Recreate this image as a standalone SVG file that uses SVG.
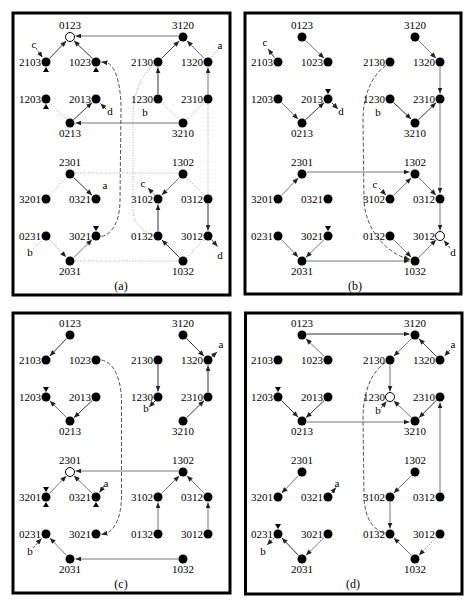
<svg xmlns="http://www.w3.org/2000/svg" width="474" height="607" viewBox="0 0 474 607">
<defs>
<marker id="ah" viewBox="0 0 7 6" refX="7" refY="3" markerWidth="6" markerHeight="5" markerUnits="userSpaceOnUse" orient="auto"><path class="ahp" d="M0,0L7,3L0,6z"/></marker>
<style>
circle{fill:#000}
circle.h{fill:#fff;stroke:#000;stroke-width:1}
text{font-family:"Liberation Serif","Times New Roman",serif;font-size:11px;fill:#000}
.l{text-anchor:end}
.m{text-anchor:middle}
.p{font-size:12px;text-anchor:middle}
.fr{fill:none;stroke:#000;stroke-width:3}
path{fill:none}
path.ahp{fill:#222;stroke:none}
.e{stroke:#333;stroke-width:1;marker-end:url(#ah)}
.eg{stroke:#777;stroke-width:1;marker-end:url(#ah)}
.dt{stroke:#aaa;stroke-width:1;stroke-dasharray:1 1.6}
.dta{stroke:#999;stroke-width:1;stroke-dasharray:1.5 1.5;marker-end:url(#ah)}
.ds{stroke:#555;stroke-width:1;stroke-dasharray:4 2}
.dsa{stroke:#555;stroke-width:1;stroke-dasharray:2.5 1.5;marker-end:url(#ah)}
.tri{fill:#000}
</style>
</defs>
<rect width="474" height="607" fill="#fff"/>
<rect class="fr" x="13" y="13" width="217" height="282"/>
<rect class="fr" x="245" y="13" width="216" height="281"/>
<rect class="fr" x="13" y="313" width="217" height="280"/>
<rect class="fr" x="245.5" y="313" width="216.5" height="281"/>

<!-- Panel a -->
<g id="panel-a">
<g id="a-edges">
<path class="e" d="M49.5,58.4L66.2,41"/>
<path class="e" d="M92.4,58.5L74,40.8"/>
<path class="dsa" d="M36,48L42.5,57.5"/>
<path class="e" d="M73.7,119.6L92,102.7"/>
<path class="e" d="M106,109L100.5,103.5"/>
<path class="eg" d="M178,36L75.5,36"/>
<path class="eg" d="M178,123L75.5,123"/>
<path class="dt" d="M66.5,119.5L49.5,102.5"/>
<path class="ds" d="M101.5,236.5C112,234 120,222 120,200L121,110C121,80 114,64 106,62.5"/>
<path class="e" d="M107,62.7L101.5,62"/>
<path class="e" d="M161.5,58.4L179.2,41"/>
<path class="eg" d="M204.4,58.5L187,40.8"/>
<path class="e" d="M158,94L158,67.5"/>
<path class="eg" d="M208,94L208,67.5"/>
<path class="dt" d="M219,48L212,57"/>
<path class="dt" d="M161.5,102.5L179.5,119.5"/>
<path class="dt" d="M204.3,102.4L186.7,119.6"/>
<path class="dt" d="M154,65C140,75 133,95 133,120L133,210C133,225 145,233 153.5,235"/>
<path class="dt" d="M208,104L208,194"/>
<path class="dt" d="M75,173L178,173"/>
<path class="dt" d="M75,261L178,261"/>
<path class="e" d="M73.6,177.5L92,195.2"/>
<path class="dt" d="M66.4,177.5L49.5,195.4"/>
<path class="dta" d="M49.5,239.5L66.1,257.1"/>
<path class="dt" d="M33,249L42,240"/>
<path class="eg" d="M73.7,257.6L92,239.7"/>
<path class="eg" d="M179.5,177.6L161.8,195"/>
<path class="dsa" d="M155,195.5L148,188"/>
<path class="dt" d="M186.6,177.5L204.4,195.5"/>
<path class="e" d="M158,231L158,204.5"/>
<path class="e" d="M208,204L208,230.5"/>
<path class="e" d="M179.5,257.5L161.9,239.9"/>
<path class="dt" d="M186.7,257.6L204.3,239.4"/>
<path class="e" d="M211.5,239.5L217.5,246.5"/>
<polygon class="tri" points="43,72 49,72 46,67"/>
<polygon class="tri" points="93,72 99,72 96,67"/>
<polygon class="tri" points="43,109 49,109 46,104"/>
<polygon class="tri" points="93,226 99,226 96,231"/>
</g>
<g id="a-0123"><circle class="h" cx="70" cy="37" r="4.5"/><text class="m" x="70" y="29">0123</text></g>
<g id="a-2103"><circle cx="46" cy="62" r="4.5"/><text class="l" x="41" y="65.8">2103</text></g>
<g id="a-1023"><circle cx="96" cy="62" r="4.5"/><text class="l" x="91" y="65.8">1023</text></g>
<g id="a-1203"><circle cx="46" cy="99" r="4.5"/><text class="l" x="41" y="102.8">1203</text></g>
<g id="a-2013"><circle cx="96" cy="99" r="4.5"/><text class="l" x="91" y="102.8">2013</text></g>
<g id="a-0213"><circle cx="70" cy="123" r="4.5"/><text class="m" x="70" y="137">0213</text></g>
<g id="a-3120"><circle cx="183" cy="37" r="4.5"/><text class="m" x="183" y="29">3120</text></g>
<g id="a-2130"><circle cx="158" cy="62" r="4.5"/><text class="l" x="153" y="65.8">2130</text></g>
<g id="a-1320"><circle cx="208" cy="62" r="4.5"/><text class="l" x="203" y="65.8">1320</text></g>
<g id="a-1230"><circle cx="158" cy="99" r="4.5"/><text class="l" x="153" y="102.8">1230</text></g>
<g id="a-2310"><circle cx="208" cy="99" r="4.5"/><text class="l" x="203" y="102.8">2310</text></g>
<g id="a-3210"><circle cx="183" cy="123" r="4.5"/><text class="m" x="183" y="137">3210</text></g>
<g id="a-2301"><circle cx="70" cy="174" r="4.5"/><text class="m" x="70" y="166">2301</text></g>
<g id="a-3201"><circle cx="46" cy="199" r="4.5"/><text class="l" x="41" y="202.8">3201</text></g>
<g id="a-0321"><circle cx="96" cy="199" r="4.5"/><text class="l" x="91" y="202.8">0321</text></g>
<g id="a-0231"><circle cx="46" cy="236" r="4.5"/><text class="l" x="41" y="239.8">0231</text></g>
<g id="a-3021"><circle cx="96" cy="236" r="4.5"/><text class="l" x="91" y="239.8">3021</text></g>
<g id="a-2031"><circle cx="70" cy="261" r="4.5"/><text class="m" x="70" y="275">2031</text></g>
<g id="a-1302"><circle cx="183" cy="174" r="4.5"/><text class="m" x="183" y="166">1302</text></g>
<g id="a-3102"><circle cx="158" cy="199" r="4.5"/><text class="l" x="153" y="202.8">3102</text></g>
<g id="a-0312"><circle cx="208" cy="199" r="4.5"/><text class="l" x="203" y="202.8">0312</text></g>
<g id="a-0132"><circle cx="158" cy="236" r="4.5"/><text class="l" x="153" y="239.8">0132</text></g>
<g id="a-3012"><circle cx="208" cy="236" r="4.5"/><text class="l" x="203" y="239.8">3012</text></g>
<g id="a-1032"><circle cx="183" cy="261" r="4.5"/><text class="m" x="183" y="275">1032</text></g>
<g id="a-letters">
<text class="m" x="34" y="48">c</text>
<text class="m" x="110" y="115">d</text>
<text class="m" x="220" y="49">a</text>
<text class="m" x="145" y="116">b</text>
<text class="m" x="105" y="189">a</text>
<text class="m" x="30" y="256">b</text>
<text class="m" x="143" y="187">c</text>
<text class="m" x="220" y="259">d</text>
<text class="p" x="121" y="290">(a)</text>
</g>
</g>

<!-- Panel b -->
<g id="panel-b" transform="translate(232,0)">
<g id="b-edges">
<path class="eg" d="M73.6,40.5L92,58.2"/>
<path class="e" d="M42.5,57.5L36,49"/>
<path class="eg" d="M49.5,102.5L66.1,119.1"/>
<path class="e" d="M73.7,119.6L92,102.7"/>
<path class="e" d="M100,103L106,109"/>
<path class="eg" d="M186.6,40.5L204,58.2"/>
<path class="eg" d="M208,67L208,93.5"/>
<path class="e" d="M161.5,102.5L179.1,119.1"/>
<path class="e" d="M186.7,119.6L204,102.7"/>
<path class="ds" d="M154,65.5C140,75 131,95 131,120L132,200C133,230 155,252 173,258"/>
<path class="e" d="M172,257.7L177.8,259.4"/>
<path class="eg" d="M208,104L208,193.5"/>
<path class="eg" d="M49.5,195.4L66.2,178"/>
<path class="eg" d="M75,172L177.5,172"/>
<path class="eg" d="M49.5,239.5L66.1,257.1"/>
<path class="eg" d="M92.3,239.4L74,257.3"/>
<path class="eg" d="M75,261L177.5,261"/>
<path class="eg" d="M161.5,195.4L179.2,178"/>
<path class="dsa" d="M147,188L154,195"/>
<path class="eg" d="M186.6,177.5L204,195.2"/>
<path class="eg" d="M208,204L208,230.5"/>
<path class="eg" d="M186.7,257.6L204,239.7"/>
<path class="dsa" d="M218,248L212,240.5"/>
<path class="eg" d="M161.5,239.5L179.1,257.1"/>
<polygon class="tri" points="93,89 99,89 96,94"/>
<polygon class="tri" points="93,226 99,226 96,231"/>
</g>
<g id="b-0123"><circle cx="70" cy="37" r="4.5"/><text class="m" x="70" y="29">0123</text></g>
<g id="b-2103"><circle cx="46" cy="62" r="4.5"/><text class="l" x="41" y="65.8">2103</text></g>
<g id="b-1023"><circle cx="96" cy="62" r="4.5"/><text class="l" x="91" y="65.8">1023</text></g>
<g id="b-1203"><circle cx="46" cy="99" r="4.5"/><text class="l" x="41" y="102.8">1203</text></g>
<g id="b-2013"><circle cx="96" cy="99" r="4.5"/><text class="l" x="91" y="102.8">2013</text></g>
<g id="b-0213"><circle cx="70" cy="123" r="4.5"/><text class="m" x="70" y="137">0213</text></g>
<g id="b-3120"><circle cx="183" cy="37" r="4.5"/><text class="m" x="183" y="29">3120</text></g>
<g id="b-2130"><circle cx="158" cy="62" r="4.5"/><text class="l" x="153" y="65.8">2130</text></g>
<g id="b-1320"><circle cx="208" cy="62" r="4.5"/><text class="l" x="203" y="65.8">1320</text></g>
<g id="b-1230"><circle cx="158" cy="99" r="4.5"/><text class="l" x="153" y="102.8">1230</text></g>
<g id="b-2310"><circle cx="208" cy="99" r="4.5"/><text class="l" x="203" y="102.8">2310</text></g>
<g id="b-3210"><circle cx="183" cy="123" r="4.5"/><text class="m" x="183" y="137">3210</text></g>
<g id="b-2301"><circle cx="70" cy="174" r="4.5"/><text class="m" x="70" y="166">2301</text></g>
<g id="b-3201"><circle cx="46" cy="199" r="4.5"/><text class="l" x="41" y="202.8">3201</text></g>
<g id="b-0321"><circle cx="96" cy="199" r="4.5"/><text class="l" x="91" y="202.8">0321</text></g>
<g id="b-0231"><circle cx="46" cy="236" r="4.5"/><text class="l" x="41" y="239.8">0231</text></g>
<g id="b-3021"><circle cx="96" cy="236" r="4.5"/><text class="l" x="91" y="239.8">3021</text></g>
<g id="b-2031"><circle cx="70" cy="261" r="4.5"/><text class="m" x="70" y="275">2031</text></g>
<g id="b-1302"><circle cx="183" cy="174" r="4.5"/><text class="m" x="183" y="166">1302</text></g>
<g id="b-3102"><circle cx="158" cy="199" r="4.5"/><text class="l" x="153" y="202.8">3102</text></g>
<g id="b-0312"><circle cx="208" cy="199" r="4.5"/><text class="l" x="203" y="202.8">0312</text></g>
<g id="b-0132"><circle cx="158" cy="236" r="4.5"/><text class="l" x="153" y="239.8">0132</text></g>
<g id="b-3012"><circle class="h" cx="208" cy="236" r="4.5"/><text class="l" x="203" y="239.8">3012</text></g>
<g id="b-1032"><circle cx="183" cy="261" r="4.5"/><text class="m" x="183" y="275">1032</text></g>
<g id="b-letters">
<text class="m" x="33" y="46">c</text>
<text class="m" x="109" y="115">d</text>
<text class="m" x="146" y="116">b</text>
<text class="m" x="143" y="188">c</text>
<text class="m" x="221" y="256">d</text>
<text class="p" x="123" y="290">(b)</text>
</g>
</g>

<!-- Panel c -->
<g id="panel-c" transform="translate(0,298)">
<g id="c-edges">
<path class="e" d="M66.5,40.6L49.8,58"/>
<path class="ds" d="M101.5,62C112,64 120,76 121.5,100L121.5,200C121,222 113,233 106,235.5"/>
<path class="e" d="M107,235.2L101.5,236.5"/>
<path class="eg" d="M66.5,119.5L49.9,102.9"/>
<path class="e" d="M92.3,102.4L74,119.7"/>
<path class="e" d="M158,67L158,93.5"/>
<path class="e" d="M155,103L149,109"/>
<path class="e" d="M186.6,40.5L204,58.2"/>
<path class="e" d="M211.5,59L217,54"/>
<path class="e" d="M208,94L208,67.5"/>
<path class="e" d="M186.7,119.6L204,102.7"/>
<path class="eg" d="M178,173L75.5,173"/>
<path class="eg" d="M49.5,195.4L66.2,178"/>
<path class="eg" d="M92.4,195.5L74,177.8"/>
<path class="e" d="M104,188L99.5,194.5"/>
<path class="eg" d="M66.5,257.5L49.9,239.9"/>
<path class="dsa" d="M33,250L41.5,240.5"/>
<path class="eg" d="M178,261L75.5,261"/>
<path class="eg" d="M158,231L158,204.5"/>
<path class="eg" d="M161.5,195.4L179.2,178"/>
<path class="eg" d="M204.4,195.5L187,177.8"/>
<path class="eg" d="M208,231L208,204.5"/>
<polygon class="tri" points="43,89 49,89 46,94"/>
<polygon class="tri" points="43,189 49,189 46,194"/>
<polygon class="tri" points="43,209 49,209 46,204"/>
<polygon class="tri" points="93,209 99,209 96,204"/>
</g>
<g id="c-0123"><circle cx="70" cy="37" r="4.5"/><text class="m" x="70" y="29">0123</text></g>
<g id="c-2103"><circle cx="46" cy="62" r="4.5"/><text class="l" x="41" y="65.8">2103</text></g>
<g id="c-1023"><circle cx="96" cy="62" r="4.5"/><text class="l" x="91" y="65.8">1023</text></g>
<g id="c-1203"><circle cx="46" cy="99" r="4.5"/><text class="l" x="41" y="102.8">1203</text></g>
<g id="c-2013"><circle cx="96" cy="99" r="4.5"/><text class="l" x="91" y="102.8">2013</text></g>
<g id="c-0213"><circle cx="70" cy="123" r="4.5"/><text class="m" x="70" y="137">0213</text></g>
<g id="c-3120"><circle cx="183" cy="37" r="4.5"/><text class="m" x="183" y="29">3120</text></g>
<g id="c-2130"><circle cx="158" cy="62" r="4.5"/><text class="l" x="153" y="65.8">2130</text></g>
<g id="c-1320"><circle cx="208" cy="62" r="4.5"/><text class="l" x="203" y="65.8">1320</text></g>
<g id="c-1230"><circle cx="158" cy="99" r="4.5"/><text class="l" x="153" y="102.8">1230</text></g>
<g id="c-2310"><circle cx="208" cy="99" r="4.5"/><text class="l" x="203" y="102.8">2310</text></g>
<g id="c-3210"><circle cx="183" cy="123" r="4.5"/><text class="m" x="183" y="137">3210</text></g>
<g id="c-2301"><circle class="h" cx="70" cy="174" r="4.5"/><text class="m" x="70" y="166">2301</text></g>
<g id="c-3201"><circle cx="46" cy="199" r="4.5"/><text class="l" x="41" y="202.8">3201</text></g>
<g id="c-0321"><circle cx="96" cy="199" r="4.5"/><text class="l" x="91" y="202.8">0321</text></g>
<g id="c-0231"><circle cx="46" cy="236" r="4.5"/><text class="l" x="41" y="239.8">0231</text></g>
<g id="c-3021"><circle cx="96" cy="236" r="4.5"/><text class="l" x="91" y="239.8">3021</text></g>
<g id="c-2031"><circle cx="70" cy="261" r="4.5"/><text class="m" x="70" y="275">2031</text></g>
<g id="c-1302"><circle cx="183" cy="174" r="4.5"/><text class="m" x="183" y="166">1302</text></g>
<g id="c-3102"><circle cx="158" cy="199" r="4.5"/><text class="l" x="153" y="202.8">3102</text></g>
<g id="c-0312"><circle cx="208" cy="199" r="4.5"/><text class="l" x="203" y="202.8">0312</text></g>
<g id="c-0132"><circle cx="158" cy="236" r="4.5"/><text class="l" x="153" y="239.8">0132</text></g>
<g id="c-3012"><circle cx="208" cy="236" r="4.5"/><text class="l" x="203" y="239.8">3012</text></g>
<g id="c-1032"><circle cx="183" cy="261" r="4.5"/><text class="m" x="183" y="275">1032</text></g>
<g id="c-letters">
<text class="m" x="146" y="114">b</text>
<text class="m" x="221" y="50">a</text>
<text class="m" x="106" y="189">a</text>
<text class="m" x="30" y="257">b</text>
<text class="p" x="121" y="290">(c)</text>
</g>
</g>

<!-- Panel d -->
<g id="panel-d" transform="translate(232,298)">
<g id="d-edges">
<path class="e" d="M75,36L177.5,36"/>
<path class="eg" d="M92.4,58.5L74,40.8"/>
<path class="eg" d="M179.5,40.6L161.8,58"/>
<path class="e" d="M204.4,58.5L187,40.8"/>
<path class="dsa" d="M218,52L212.5,58"/>
<path class="eg" d="M158,67L158,93.5"/>
<path class="dsa" d="M149,110L154.5,103.5"/>
<path class="eg" d="M179.5,119.5L161.9,102.9"/>
<path class="e" d="M204.3,102.4L187,119.7"/>
<path class="e" d="M49.5,102.5L66.1,119.1"/>
<path class="e" d="M92.3,102.4L74,119.7"/>
<path class="eg" d="M75,124L177.5,124"/>
<path class="ds" d="M153.5,64.5C141,72 131,92 131,120L132,200C133,222 142,232 153,235.5"/>
<path class="eg" d="M208,194L208,104.5"/>
<path class="eg" d="M66.5,177.6L49.8,195"/>
<path class="e" d="M99.5,195L104,189.5"/>
<path class="dsa" d="M42.5,239.5L35,247"/>
<path class="e" d="M66.5,257.5L49.9,239.9"/>
<path class="eg" d="M92.3,239.4L74,257.3"/>
<path class="eg" d="M179.5,177.6L161.8,195"/>
<path class="eg" d="M158,204L158,230.5"/>
<path class="eg" d="M179.5,257.5L161.9,239.9"/>
<path class="dta" d="M204.3,239.4L187,257.3"/>
<polygon class="tri" points="43,89 49,89 46,94"/>
<polygon class="tri" points="43,226 49,226 46,231"/>
</g>
<g id="d-0123"><circle cx="70" cy="37" r="4.5"/><text class="m" x="70" y="29">0123</text></g>
<g id="d-2103"><circle cx="46" cy="62" r="4.5"/><text class="l" x="41" y="65.8">2103</text></g>
<g id="d-1023"><circle cx="96" cy="62" r="4.5"/><text class="l" x="91" y="65.8">1023</text></g>
<g id="d-1203"><circle cx="46" cy="99" r="4.5"/><text class="l" x="41" y="102.8">1203</text></g>
<g id="d-2013"><circle cx="96" cy="99" r="4.5"/><text class="l" x="91" y="102.8">2013</text></g>
<g id="d-0213"><circle cx="70" cy="123" r="4.5"/><text class="m" x="70" y="137">0213</text></g>
<g id="d-3120"><circle cx="183" cy="37" r="4.5"/><text class="m" x="183" y="29">3120</text></g>
<g id="d-2130"><circle cx="158" cy="62" r="4.5"/><text class="l" x="153" y="65.8">2130</text></g>
<g id="d-1320"><circle cx="208" cy="62" r="4.5"/><text class="l" x="203" y="65.8">1320</text></g>
<g id="d-1230"><circle class="h" cx="158" cy="99" r="4.5"/><text class="l" x="153" y="102.8">1230</text></g>
<g id="d-2310"><circle cx="208" cy="99" r="4.5"/><text class="l" x="203" y="102.8">2310</text></g>
<g id="d-3210"><circle cx="183" cy="123" r="4.5"/><text class="m" x="183" y="137">3210</text></g>
<g id="d-2301"><circle cx="70" cy="174" r="4.5"/><text class="m" x="70" y="166">2301</text></g>
<g id="d-3201"><circle cx="46" cy="199" r="4.5"/><text class="l" x="41" y="202.8">3201</text></g>
<g id="d-0321"><circle cx="96" cy="199" r="4.5"/><text class="l" x="91" y="202.8">0321</text></g>
<g id="d-0231"><circle cx="46" cy="236" r="4.5"/><text class="l" x="41" y="239.8">0231</text></g>
<g id="d-3021"><circle cx="96" cy="236" r="4.5"/><text class="l" x="91" y="239.8">3021</text></g>
<g id="d-2031"><circle cx="70" cy="261" r="4.5"/><text class="m" x="70" y="275">2031</text></g>
<g id="d-1302"><circle cx="183" cy="174" r="4.5"/><text class="m" x="183" y="166">1302</text></g>
<g id="d-3102"><circle cx="158" cy="199" r="4.5"/><text class="l" x="153" y="202.8">3102</text></g>
<g id="d-0312"><circle cx="208" cy="199" r="4.5"/><text class="l" x="203" y="202.8">0312</text></g>
<g id="d-0132"><circle cx="158" cy="236" r="4.5"/><text class="l" x="153" y="239.8">0132</text></g>
<g id="d-3012"><circle cx="208" cy="236" r="4.5"/><text class="l" x="203" y="239.8">3012</text></g>
<g id="d-1032"><circle cx="183" cy="261" r="4.5"/><text class="m" x="183" y="275">1032</text></g>
<g id="d-letters">
<text class="m" x="221" y="50">a</text>
<text class="m" x="146" y="116">b</text>
<text class="m" x="105" y="189">a</text>
<text class="m" x="31" y="257">b</text>
<text class="p" x="121" y="290">(d)</text>
</g>
</g>
</svg>
